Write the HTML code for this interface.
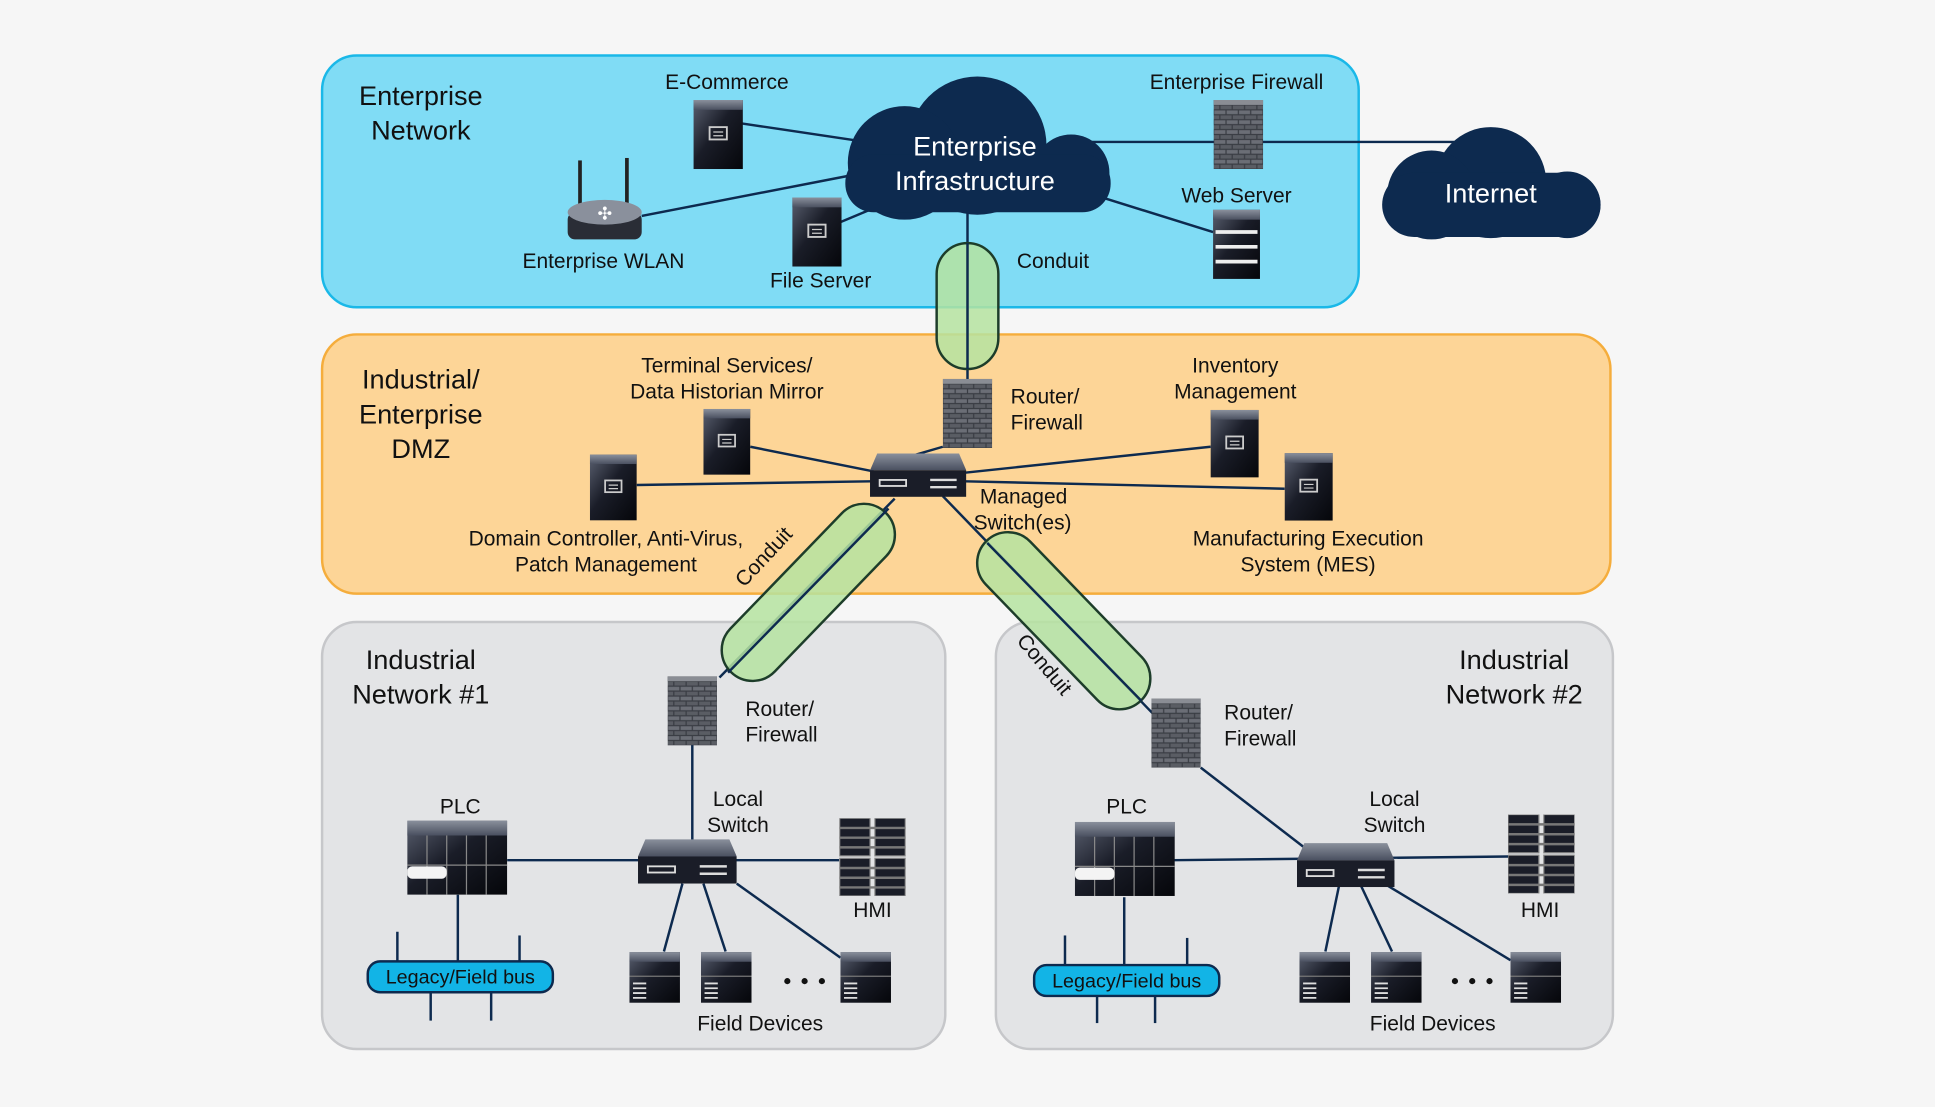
<!DOCTYPE html>
<html><head><meta charset="utf-8"><style>
html,body{margin:0;padding:0;background:#f6f6f6;}
svg{display:block;}
text{font-family:"Liberation Sans",sans-serif;fill:#111;}
</style></head><body>
<svg width="1935" height="1107" viewBox="0 0 1568 897" preserveAspectRatio="none" xmlns="http://www.w3.org/2000/svg">
<defs>
<linearGradient id="dk" x1="0" y1="0" x2="1" y2="1"><stop offset="0" stop-color="#5a6070"/><stop offset="0.45" stop-color="#1a1d28"/><stop offset="1" stop-color="#05060a"/></linearGradient>
<linearGradient id="top" x1="0" y1="0" x2="0" y2="1"><stop offset="0" stop-color="#8a909c"/><stop offset="1" stop-color="#4a5060"/></linearGradient>
<pattern id="brick" width="10" height="8" patternUnits="userSpaceOnUse"><rect width="10" height="8" fill="#3a3d44"/><rect x="0.5" y="0.5" width="9" height="3" fill="#6b6e76"/><rect x="-4.5" y="4.5" width="9" height="3" fill="#5a5d64"/><rect x="5.5" y="4.5" width="9" height="3" fill="#5a5d64"/></pattern>
<symbol id="srv" viewBox="0 0 40 56"><rect x="0" y="0" width="40" height="56" fill="url(#dk)"/><rect x="0" y="0" width="40" height="8" fill="url(#top)"/><rect x="13" y="22" width="14" height="10" fill="none" stroke="#ccc" stroke-width="1.5"/><line x1="16" y1="26" x2="24" y2="26" stroke="#ccc"/><line x1="16" y1="29" x2="24" y2="29" stroke="#ccc"/></symbol>
<symbol id="fw" viewBox="0 0 40 56"><rect width="40" height="56" fill="url(#brick)"/><rect width="40" height="4" fill="#8a8d94"/></symbol>
<symbol id="sw" viewBox="0 0 80 36"><polygon points="6,0 74,0 80,14 0,14" fill="url(#top)"/><rect x="0" y="14" width="80" height="22" fill="#1a1d28"/><rect x="8" y="22" width="22" height="5" fill="none" stroke="#ddd" stroke-width="1.5"/><line x1="50" y1="22" x2="72" y2="22" stroke="#ddd" stroke-width="2"/><line x1="50" y1="28" x2="72" y2="28" stroke="#ddd" stroke-width="2"/></symbol>
<symbol id="fd" viewBox="0 0 42 42"><rect width="42" height="42" fill="url(#dk)"/><rect width="42" height="8" fill="url(#top)"/><line x1="0" y1="20" x2="42" y2="20" stroke="#777"/><g stroke="#ddd" stroke-width="1.5"><line x1="3" y1="26" x2="14" y2="26"/><line x1="3" y1="30" x2="14" y2="30"/><line x1="3" y1="34" x2="14" y2="34"/><line x1="3" y1="38" x2="14" y2="38"/></g></symbol>
<symbol id="plc" viewBox="0 0 81 60"><rect width="81" height="60" fill="url(#dk)"/><rect width="81" height="12" fill="url(#top)"/><g stroke="#888" stroke-width="1"><line x1="16" y1="12" x2="16" y2="60"/><line x1="32" y1="12" x2="32" y2="60"/><line x1="48" y1="12" x2="48" y2="60"/><line x1="64" y1="12" x2="64" y2="60"/><line x1="0" y1="36" x2="81" y2="36"/></g><rect x="0" y="37" width="32" height="10" rx="4" fill="#f4f4f4"/></symbol>
<symbol id="hmi" viewBox="0 0 54 64"><g fill="#1a1d28" stroke="#888" stroke-width="1"><rect x="0" y="0" width="25" height="31"/><rect x="29" y="0" width="25" height="31"/><rect x="0" y="33" width="25" height="31"/><rect x="29" y="33" width="25" height="31"/></g><g stroke="#777" stroke-width="2"><line x1="0" y1="8" x2="54" y2="8"/><line x1="0" y1="16" x2="54" y2="16"/><line x1="0" y1="24" x2="54" y2="24"/><line x1="0" y1="41" x2="54" y2="41"/><line x1="0" y1="49" x2="54" y2="49"/><line x1="0" y1="57" x2="54" y2="57"/></g></symbol>
</defs>
<rect width="1568" height="897" fill="#f6f6f6"/>
<!-- regions -->
<rect x="261" y="45" width="840" height="204" rx="28" fill="#80dcf5" stroke="#1ab8e8" stroke-width="2"/>
<rect x="261" y="271" width="1044" height="210" rx="28" fill="#fdd597" stroke="#f5ad3c" stroke-width="2"/>
<rect x="261" y="504" width="505" height="346" rx="28" fill="#e3e4e6" stroke="#c6c7ca" stroke-width="2"/>
<rect x="807" y="504" width="500" height="346" rx="28" fill="#e3e4e6" stroke="#c6c7ca" stroke-width="2"/>
<!-- lines -->
<g stroke="#0d2a4f" stroke-width="2" fill="none">
<line x1="601" y1="100" x2="695" y2="114"/>
<line x1="520" y1="175" x2="690" y2="142"/>
<line x1="681" y1="180" x2="712" y2="167"/>
<line x1="880" y1="115" x2="1180" y2="115"/>
<line x1="893" y1="160" x2="983" y2="188"/>
<line x1="784" y1="170" x2="784" y2="310"/>
<line x1="764" y1="362" x2="740" y2="369"/>
<line x1="608" y1="362" x2="708" y2="382"/>
<line x1="516" y1="393" x2="706" y2="390"/>
<line x1="782" y1="383" x2="981" y2="362"/>
<line x1="782" y1="390" x2="1041" y2="396"/>
<line x1="725" y1="404" x2="583" y2="549"/>
<line x1="764" y1="402" x2="934" y2="578"/>
<line x1="561" y1="603" x2="561" y2="682"/>
<line x1="411" y1="697" x2="680" y2="697"/>
<line x1="553" y1="716" x2="538" y2="771"/>
<line x1="570" y1="716" x2="588" y2="771"/>
<line x1="597" y1="716" x2="681" y2="776"/>
<line x1="371" y1="725" x2="371" y2="780"/>
<line x1="322" y1="755" x2="322" y2="780"/>
<line x1="421" y1="758" x2="421" y2="780"/>
<line x1="349" y1="803" x2="349" y2="827"/>
<line x1="398" y1="803" x2="398" y2="827"/>
<line x1="973" y1="622" x2="1056" y2="686"/>
<line x1="951" y1="697" x2="1222" y2="694"/>
<line x1="1085" y1="718" x2="1074" y2="771"/>
<line x1="1103" y1="718" x2="1128" y2="771"/>
<line x1="1125" y1="718" x2="1224" y2="778"/>
<line x1="911" y1="727" x2="911" y2="783"/>
<line x1="863" y1="758" x2="863" y2="783"/>
<line x1="962" y1="760" x2="962" y2="783"/>
<line x1="889" y1="806" x2="889" y2="829"/>
<line x1="936" y1="806" x2="936" y2="829"/>
</g>
<!-- conduits -->
<g fill="#b5e3a0" fill-opacity="0.85" stroke="#1d3d2a" stroke-width="2">
<rect x="759" y="197" width="50" height="102" rx="25"/>
<rect x="565" y="455" width="180" height="50" rx="25" transform="rotate(-46 655 480)"/>
<rect x="772" y="478" width="180" height="50" rx="25" transform="rotate(46 862 503)"/>
</g>
<g stroke="#0d2a4f" stroke-width="2"><line x1="784" y1="197" x2="784" y2="299"/><line x1="720" y1="412" x2="590" y2="545"/><line x1="800" y1="440" x2="925" y2="568"/></g>
<!-- clouds -->
<g fill="#0d2a4f">
<circle cx="792" cy="118" r="56"/><circle cx="733" cy="132" r="46"/><circle cx="868" cy="140" r="31"/><rect x="685" y="125" width="215" height="47" rx="23"/>
<circle cx="1208" cy="148" r="45"/><circle cx="1160" cy="158" r="36"/><circle cx="1270" cy="166" r="27"/><rect x="1120" y="140" width="177" height="52" rx="26"/>
</g>
<text x="790" y="126" font-size="22" text-anchor="middle" style="fill:#fff">Enterprise</text>
<text x="790" y="154" font-size="22" text-anchor="middle" style="fill:#fff">Infrastructure</text>
<text x="1208" y="164" font-size="22" text-anchor="middle" style="fill:#fff">Internet</text>
<!-- devices -->
<use href="#srv" x="562" y="81" width="40" height="56"/>
<use href="#srv" x="642" y="160" width="40" height="56"/>
<use href="#fw" x="983" y="81" width="41" height="56"/>
<g><rect x="983" y="170" width="38" height="56" fill="url(#dk)"/><rect x="983" y="170" width="38" height="8" fill="url(#top)"/><g stroke="#eee" stroke-width="3"><line x1="985" y1="188" x2="1019" y2="188"/><line x1="985" y1="200" x2="1019" y2="200"/><line x1="985" y1="212" x2="1019" y2="212"/></g></g>
<!-- WLAN router -->
<g><line x1="470" y1="130" x2="470" y2="172" stroke="#222" stroke-width="3"/><line x1="508" y1="128" x2="508" y2="170" stroke="#222" stroke-width="3"/><rect x="460" y="172" width="60" height="22" rx="6" fill="#2a2d36"/><ellipse cx="490" cy="172" rx="30" ry="10" fill="#8a909c"/><text x="490" y="178" font-size="14" text-anchor="middle" style="fill:#fff">✣</text></g>
<use href="#fw" x="764" y="307" width="40" height="56"/>
<use href="#sw" x="705" y="367" width="78" height="36"/>
<use href="#srv" x="570" y="330" width="38" height="56"/>
<use href="#srv" x="478" y="367" width="38" height="56"/>
<use href="#srv" x="981" y="331" width="39" height="57"/>
<use href="#srv" x="1041" y="366" width="39" height="57"/>
<use href="#fw" x="541" y="548" width="40" height="56"/>
<use href="#fw" x="933" y="566" width="40" height="56"/>
<use href="#sw" x="517" y="680" width="80" height="36"/>
<use href="#sw" x="1051" y="683" width="79" height="36"/>
<use href="#plc" x="330" y="665" width="81" height="60"/>
<use href="#plc" x="871" y="666" width="81" height="60"/>
<use href="#hmi" x="680" y="663" width="54" height="63"/>
<use href="#hmi" x="1222" y="660" width="54" height="64"/>
<use href="#fd" x="510" y="771" width="41" height="42"/>
<use href="#fd" x="568" y="771" width="41" height="42"/>
<use href="#fd" x="681" y="771" width="41" height="42"/>
<use href="#fd" x="1053" y="771" width="41" height="42"/>
<use href="#fd" x="1111" y="771" width="41" height="42"/>
<use href="#fd" x="1224" y="771" width="41" height="42"/>
<g fill="#111"><circle cx="638" cy="795" r="2.5"/><circle cx="652" cy="795" r="2.5"/><circle cx="666" cy="795" r="2.5"/><circle cx="1179" cy="795" r="2.5"/><circle cx="1193" cy="795" r="2.5"/><circle cx="1207" cy="795" r="2.5"/></g>
<rect x="298" y="779" width="150" height="25" rx="10" fill="#12b4e6" stroke="#0d2a4f" stroke-width="2"/>
<rect x="838" y="782" width="150" height="25" rx="10" fill="#12b4e6" stroke="#0d2a4f" stroke-width="2"/>
<text x="373" y="797" font-size="16" text-anchor="middle">Legacy/Field bus</text>
<text x="913" y="800" font-size="16" text-anchor="middle">Legacy/Field bus</text>
<!-- labels -->
<g font-size="22" text-anchor="middle">
<text x="341" y="85">Enterprise</text><text x="341" y="113">Network</text>
<text x="341" y="315">Industrial/</text><text x="341" y="343">Enterprise</text><text x="341" y="371">DMZ</text>
<text x="341" y="542">Industrial</text><text x="341" y="570">Network #1</text>
<text x="1227" y="542">Industrial</text><text x="1227" y="570">Network #2</text>
</g>
<g font-size="17">
<text x="589" y="72" text-anchor="middle">E-Commerce</text>
<text x="1002" y="72" text-anchor="middle">Enterprise Firewall</text>
<text x="1002" y="164" text-anchor="middle">Web Server</text>
<text x="489" y="217" text-anchor="middle">Enterprise WLAN</text>
<text x="665" y="233" text-anchor="middle">File Server</text>
<text x="824" y="217">Conduit</text>
<text x="589" y="302" text-anchor="middle">Terminal Services/</text>
<text x="589" y="323" text-anchor="middle">Data Historian Mirror</text>
<text x="1001" y="302" text-anchor="middle">Inventory</text>
<text x="1001" y="323" text-anchor="middle">Management</text>
<text x="819" y="327">Router/</text><text x="819" y="348">Firewall</text>
<text x="794" y="408">Managed</text><text x="789" y="429">Switch(es)</text>
<text x="491" y="442" text-anchor="middle">Domain Controller, Anti-Virus,</text>
<text x="491" y="463" text-anchor="middle">Patch Management</text>
<text x="1060" y="442" text-anchor="middle">Manufacturing Execution</text>
<text x="1060" y="463" text-anchor="middle">System (MES)</text>
<text x="623" y="455" text-anchor="middle" transform="rotate(-47 623 455)">Conduit</text>
<text x="842" y="542" text-anchor="middle" transform="rotate(50 842 542)">Conduit</text>
<text x="604" y="580">Router/</text><text x="604" y="601">Firewall</text>
<text x="992" y="583">Router/</text><text x="992" y="604">Firewall</text>
<text x="373" y="659" text-anchor="middle">PLC</text>
<text x="913" y="659" text-anchor="middle">PLC</text>
<text x="598" y="653" text-anchor="middle">Local</text><text x="598" y="674" text-anchor="middle">Switch</text>
<text x="1130" y="653" text-anchor="middle">Local</text><text x="1130" y="674" text-anchor="middle">Switch</text>
<text x="707" y="743" text-anchor="middle">HMI</text>
<text x="1248" y="743" text-anchor="middle">HMI</text>
<text x="616" y="835" text-anchor="middle">Field Devices</text>
<text x="1161" y="835" text-anchor="middle">Field Devices</text>
</g>
</svg>
</body></html>
